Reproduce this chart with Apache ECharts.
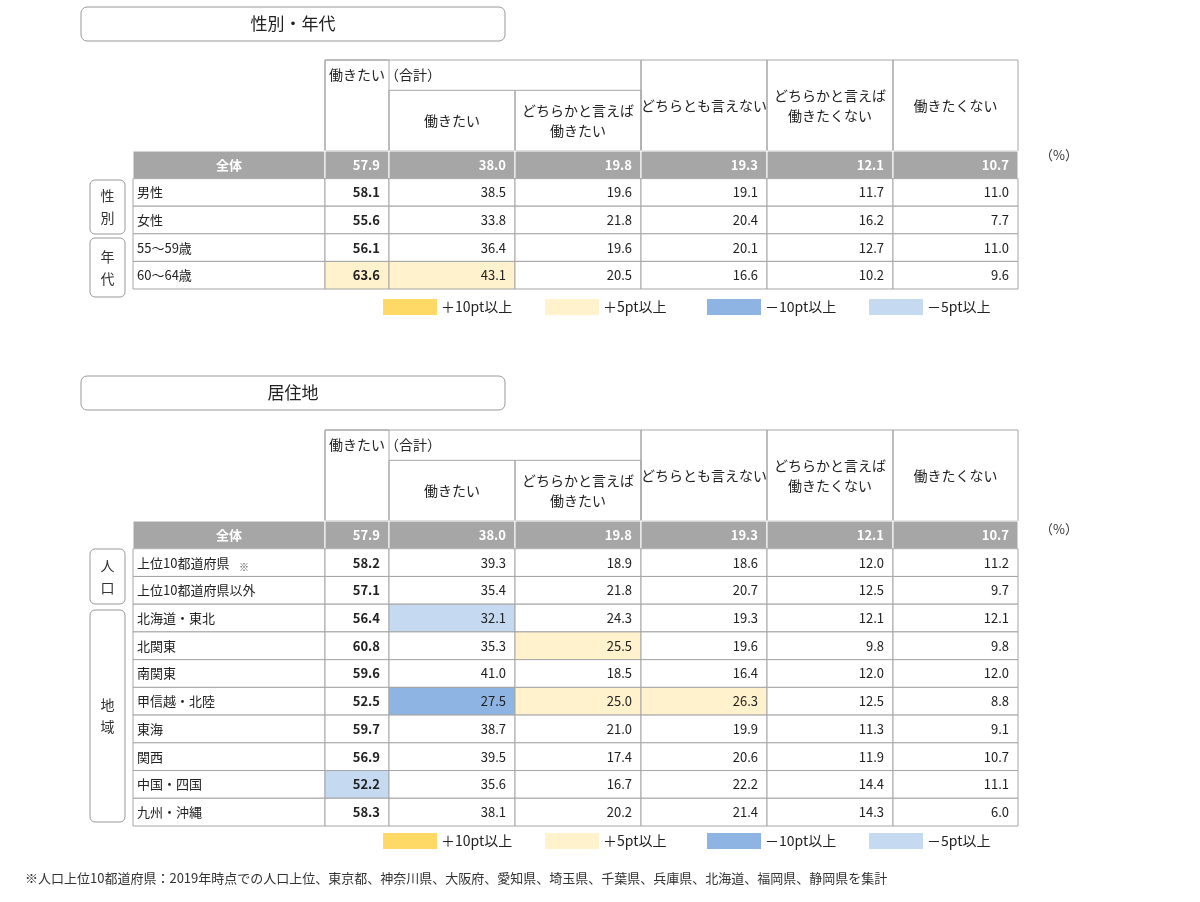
<!DOCTYPE html>
<html><head><meta charset="utf-8">
<script src="https://cdn.jsdelivr.net/npm/echarts@6/dist/echarts.min.js"></script>
<style>html,body{margin:0;padding:0;background:#fff}#c{width:1200px;height:902px}</style>
</head><body><div id="c"></div>
<script>
const columns = ['働きたい（合計）','働きたい','どちらかと言えば\n働きたい','どちらとも言えない','どちらかと言えば\n働きたくない','働きたくない'];
const rows1 = ['全体','男性','女性','55～59歳','60～64歳'];
const vals1 = [
 [57.9,38.0,19.8,19.3,12.1,10.7],
 [58.1,38.5,19.6,19.1,11.7,11.0],
 [55.6,33.8,21.8,20.4,16.2,7.7],
 [56.1,36.4,19.6,20.1,12.7,11.0],
 [63.6,43.1,20.5,16.6,10.2,9.6]];
const hl1 = [[4,0,'p5'],[4,1,'p5']];
const rows2 = ['全体','上位10都道府県','上位10都道府県以外','北海道・東北','北関東','南関東','甲信越・北陸','東海','関西','中国・四国','九州・沖縄'];
const vals2 = [
 [57.9,38.0,19.8,19.3,12.1,10.7],
 [58.2,39.3,18.9,18.6,12.0,11.2],
 [57.1,35.4,21.8,20.7,12.5,9.7],
 [56.4,32.1,24.3,19.3,12.1,12.1],
 [60.8,35.3,25.5,19.6,9.8,9.8],
 [59.6,41.0,18.5,16.4,12.0,12.0],
 [52.5,27.5,25.0,26.3,12.5,8.8],
 [59.7,38.7,21.0,19.9,11.3,9.1],
 [56.9,39.5,17.4,20.6,11.9,10.7],
 [52.2,35.6,16.7,22.2,14.4,11.1],
 [58.3,38.1,20.2,21.4,14.3,6.0]];
const hl2 = [[3,1,'m5'],[4,2,'p5'],[6,1,'m10'],[6,2,'p5'],[6,3,'p5'],[9,0,'m5']];
const legendItems = [['p10','＋10pt以上'],['p5','＋5pt以上'],['m10','－10pt以上'],['m5','－5pt以上']];

const COL = {p10:'#ffd966',p5:'#fff2cc',m10:'#8eb4e3',m5:'#c5d9f1'};
const EDGES = [0,192,256,382,508,634,760,885];
const FONT = '"Noto Sans CJK JP","Noto Sans",sans-serif';
const BORDER = '#a6a6a6';

function bodyData(rows, vals, hl){
  const d=[];
  rows.forEach((r,i)=>{
    d.push([0,i,r,'']);
    vals[i].forEach((v,j)=>{
      const h = hl.find(x=>x[0]===i&&x[1]===j);
      d.push([j+1,i,v.toFixed(1),h?h[2]:'']);
    });
  });
  return d;
}
function bodyRender(params, api){
  const c=api.value(0), r=api.value(1), txt=api.value(2), hlk=api.value(3);
  const p0=api.coord([EDGES[c], r]), p1=api.coord([EDGES[c+1], r+1]);
  const x0=p0[0], y0=p0[1], w=p1[0]-p0[0], h=p1[1]-p0[1];
  const overall = r===0;
  let fill = overall ? '#a6a6a6' : (hlk ? COL[hlk] : '#fff');
  let color = overall ? '#fff' : '#222';
  const bold = overall || c===1;
  const children=[{type:'rect',shape:{x:x0,y:y0,width:w,height:h},style:{fill:fill,stroke:overall?'#fff':BORDER,lineWidth:1}}];
  let tx, align;
  if(c===0){ if(overall){tx=x0+w/2;align='center';} else {tx=x0+4;align='left';} }
  else { tx=x0+w-9; align='right'; }
  children.push({type:'text',style:{text:txt,x:tx,y:y0+h/2,align:align,verticalAlign:'middle',fill:color,font:(bold?'bold ':'')+'13px '+FONT}});
  if(c===0 && txt==='上位10都道府県'){
    children.push({type:'text',style:{text:'※',x:x0+106,y:y0+h/2+5,align:'left',verticalAlign:'middle',fill:'#444',font:'10px '+FONT}});
  }
  return {type:'group',children:children};
}
const headerData = [
  [1,4,0,3,columns[0],'tl'],
  [2,3,1,3,columns[1],'c'],[3,4,1,3,columns[2],'c'],
  [4,5,0,3,columns[3],'c'],[5,6,0,3,columns[4],'c'],[6,7,0,3,columns[5],'c'],
  [1,2,0,3,'','n']];
function headerRender(params, api){
  const a=api.value(0),b=api.value(1),y0v=api.value(2),y1v=api.value(3),txt=api.value(4),m=api.value(5);
  const p0=api.coord([EDGES[a],y0v]),p1=api.coord([EDGES[b],y1v]);
  const ch=[{type:'rect',shape:{x:p0[0],y:p0[1],width:p1[0]-p0[0],height:p1[1]-p0[1]},style:{fill:'none',stroke:BORDER,lineWidth:1}}];
  if(txt){
    if(m==='tl') ch.push({type:'text',style:{text:txt,x:p0[0]+4,y:p0[1]+15,align:'left',verticalAlign:'middle',fill:'#222',font:'14px '+FONT}});
    else ch.push({type:'text',style:{text:txt,x:(p0[0]+p1[0])/2,y:(p0[1]+p1[1])/2,align:'center',verticalAlign:'middle',fill:'#222',font:'14px '+FONT,lineHeight:20}});
  }
  return {type:'group',children:ch};
}
const grids=[
 {left:133,width:885,top:60,height:91},
 {left:133,width:885,top:151,height:138},
 {left:133,width:885,top:430,height:91},
 {left:133,width:885,top:521,height:305}];
const xAxes=grids.map((g,i)=>({type:'value',gridIndex:i,min:0,max:885,show:false}));
const yAxes=[
 {type:'value',gridIndex:0,min:0,max:3,inverse:true,show:false},
 {type:'value',gridIndex:1,min:0,max:rows1.length,inverse:true,show:false},
 {type:'value',gridIndex:2,min:0,max:3,inverse:true,show:false},
 {type:'value',gridIndex:3,min:0,max:rows2.length,inverse:true,show:false}];
const series=[
 {type:'custom',xAxisIndex:0,yAxisIndex:0,data:headerData,renderItem:headerRender,silent:true},
 {type:'custom',xAxisIndex:1,yAxisIndex:1,data:bodyData(rows1,vals1,hl1),renderItem:bodyRender,silent:true},
 {type:'custom',xAxisIndex:2,yAxisIndex:2,data:headerData,renderItem:headerRender,silent:true},
 {type:'custom',xAxisIndex:3,yAxisIndex:3,data:bodyData(rows2,vals2,hl2),renderItem:bodyRender,silent:true}];

const g=[];
function titleBox(y,t){
  g.push({type:'rect',shape:{x:81,y:y,width:424,height:34,r:6},style:{fill:'#fff',stroke:'#999',lineWidth:1}});
  g.push({type:'text',style:{text:t,x:293,y:y+17,align:'center',verticalAlign:'middle',fill:'#222',font:'17px '+FONT}});
}
function groupBox(y0,y1,t){
  g.push({type:'rect',shape:{x:90,y:y0,width:35,height:y1-y0,r:5},style:{fill:'#fff',stroke:'#999',lineWidth:1}});
  g.push({type:'text',style:{text:t.split('').join('\n'),x:107.5,y:(y0+y1)/2,align:'center',verticalAlign:'middle',fill:'#333',font:'14px '+FONT,lineHeight:22}});
}
function legend(y){
  const xs=[383,545,707,869];
  legendItems.forEach((it,i)=>{
    g.push({type:'rect',shape:{x:xs[i],y:y-8,width:54,height:16},style:{fill:COL[it[0]]}});
    g.push({type:'text',style:{text:it[1],x:xs[i]+58,y:y,align:'left',verticalAlign:'middle',fill:'#222',font:'14px '+FONT}});
  });
}
titleBox(7,'性別・年代'); titleBox(376,'居住地');
groupBox(180,234,'性別'); groupBox(238,297,'年代');
groupBox(549,604,'人口'); groupBox(610,822,'地域');
legend(307); legend(841);
g.push({type:'text',style:{text:'（%）',x:1040,y:155,align:'left',verticalAlign:'middle',fill:'#333',font:'13px '+FONT}});
g.push({type:'text',style:{text:'（%）',x:1040,y:529,align:'left',verticalAlign:'middle',fill:'#333',font:'13px '+FONT}});
g.push({type:'text',style:{text:'※人口上位10都道府県：2019年時点での人口上位、東京都、神奈川県、大阪府、愛知県、埼玉県、千葉県、兵庫県、北海道、福岡県、静岡県を集計',x:25,y:878,align:'left',verticalAlign:'middle',fill:'#333',font:'13px '+FONT}});

const chart=echarts.init(document.getElementById('c'));
chart.setOption({animation:false,grid:grids,xAxis:xAxes,yAxis:yAxes,series:series,graphic:{elements:g}});
</script></body></html>
